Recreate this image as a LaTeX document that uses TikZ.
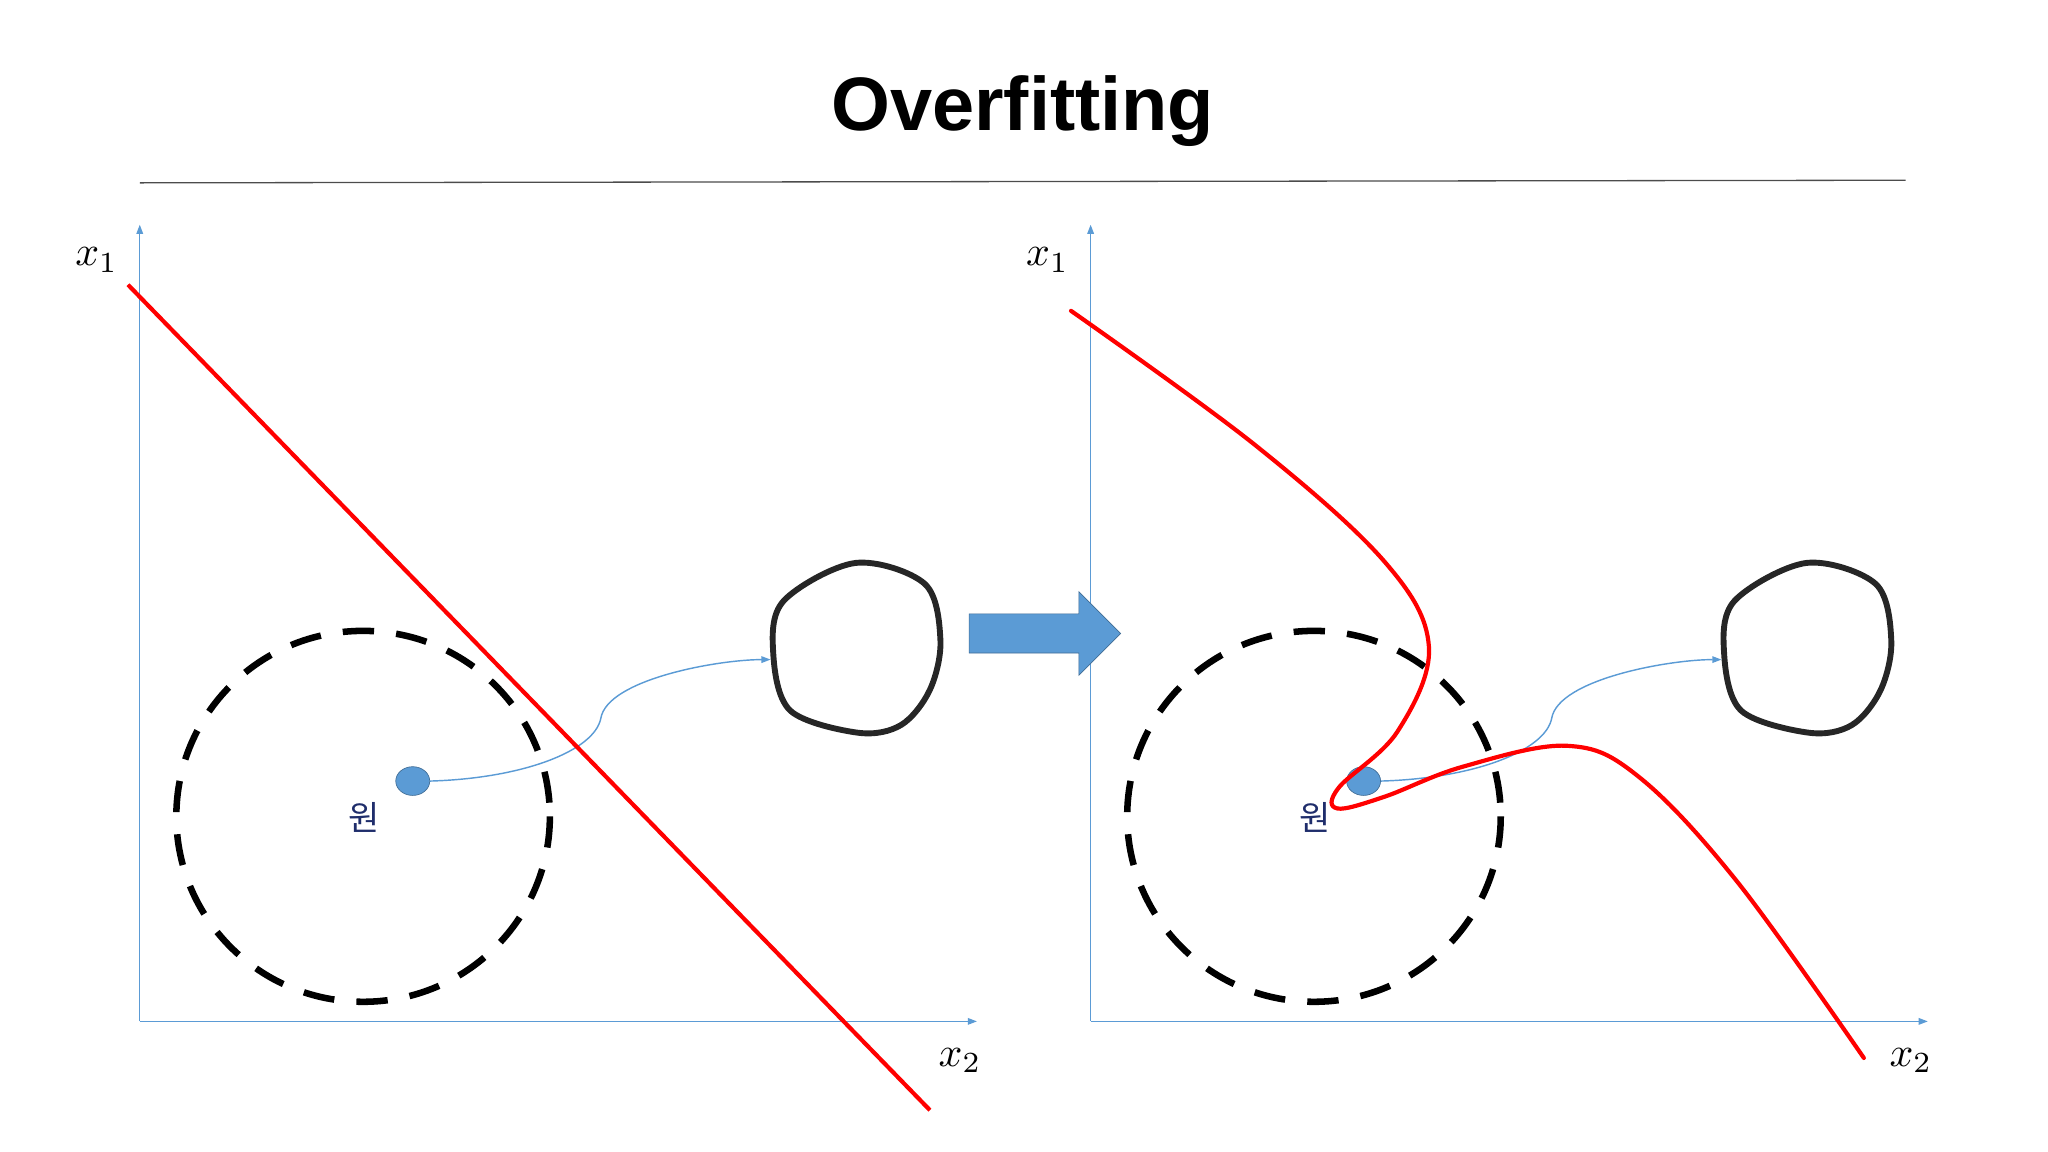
\documentclass[tikz,border=0pt]{standalone}
\usepackage{fontspec}
\setmainfont{Liberation Sans}
\newfontfamily\cjk{Noto Sans CJK KR}
\usetikzlibrary{arrows.meta,shapes.geometric}
\definecolor{ax}{HTML}{5B9BD5}
\definecolor{navy}{HTML}{1F2D6B}
\tikzset{
 axis/.style={draw=ax,line width=1.1pt,-{Triangle[length=7pt,width=5pt]}},
 redl/.style={draw=red,line width=3.2pt},
 dcirc/.style={draw=black,line width=5pt,dash pattern=on 24pt off 17pt},
 dot/.style={ellipse,fill=ax,draw=ax!70!black,line width=0.5pt,minimum width=26pt,minimum height=22pt,inner sep=0pt},
 link/.style={draw=ax,line width=1.1pt,-{Triangle[length=7pt,width=5pt]}},
 blob/.style={draw=black!85,line width=4.5pt},
 blockarrow/.style={fill=ax,draw=ax!70!black,line width=0.5pt},
}
\begin{document}
\begin{tikzpicture}[x=1pt,y=-1pt]
\useasboundingbox (0,0) rectangle (1568,882);
\node (title) at (783,85) {\fontsize{58}{58}\selectfont\bfseries Overfitting};
\draw[black!70,line width=1pt] (107,140) -- (1459,138);
\foreach \o/\n in {0/L,728/R}{
 \begin{scope}[xshift=\o]
 \coordinate (o\n) at (107,782);
 \coordinate (y\n) at (107,172);
 \coordinate (x\n) at (748,782);
 \draw[axis] (o\n) -- (y\n);
 \draw[axis] (o\n) -- (x\n);
 \node (xa\n) at (74,199) {\scalebox{3.2}{$x_1$}};
 \node (xb\n) at (735,812) {\scalebox{3.2}{$x_2$}};
 \draw[dcirc] (278,625) circle[x radius=143,y radius=142];
 \node[dot] (d\n) at (316,598) {};
 \node[text=navy] (w\n) at (279,626) {\cjk\fontsize{26}{26}\selectfont 원};
 \draw[blob] plot[smooth cycle,tension=0.55] coordinates {(655,431)(708,447)(720,490)(712,528)(690,555)(657,561)(605,544)(592,500)(600,460)};
 \coordinate (bt\n) at (590,505);
 \draw[link] (d\n.east) .. controls (400,596) and (455,575) .. (460,550) .. controls (465,520) and (550,505) .. (bt\n);
 \end{scope}
}
\draw[redl] (98,218) -- (712,850);
\draw[blockarrow] (742,470) -- (826,470) -- (826,453) -- (858,485) -- (826,517) -- (826,500) -- (742,500) -- cycle;
\draw[redl,line cap=round] plot[smooth,tension=0.6] coordinates {(820,238)(960,340)(1060,430)(1094,495)(1070,560)(1025,603)(1024,619)(1060,610)(1120,587)(1200,571)(1255,595)(1330,675)(1427,810)};
\end{tikzpicture}
\end{document}
